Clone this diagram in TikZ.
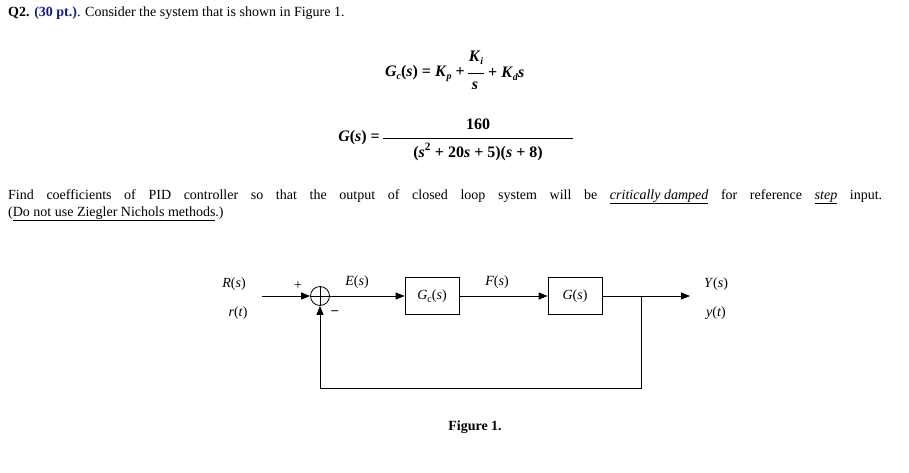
\documentclass[tikz,border=0pt]{standalone}
\usepackage{fontspec}
\setmainfont{Liberation Serif}
\usetikzlibrary{arrows.meta}
\newcommand{\bi}[1]{\textbf{\textit{#1}}}
\newcommand{\lowsub}[1]{\raisebox{-3pt}{\fontsize{10}{12}\selectfont #1}}
\begin{document}
\begin{tikzpicture}[x=1pt,y=-1pt,
  txt/.style={font=\fontsize{14}{17}\selectfont, inner sep=0pt},
  eq/.style={font=\fontsize{16}{19}\selectfont, inner sep=0pt},
  blk/.style={draw, line width=0.8pt, minimum width=54pt, minimum height=37pt, font=\fontsize{14}{17}\selectfont, inner sep=0pt},
  sig/.style={line width=0.9pt},
  arr/.style={sig, -{Triangle[length=9pt,width=7pt]}}]
\useasboundingbox[fill=white] (0,0) rectangle (909,472);
\node[txt, anchor=west] (q) at (8,13) {\textbf{Q2.} \textcolor[rgb]{0.1,0.1,0.55}{\textbf{(30 pt.)}}. Consider the system that is shown in Figure 1.};
\node[eq, anchor=east] (e1a) at (465,74) {\bi{G}\lowsub{\bi{c}}\textbf{(}\bi{s}\textbf{) = }\bi{K}\lowsub{\bi{p}}\textbf{ +}};
\node[eq] (e1n) at (476,58) {\bi{K}\lowsub{\bi{i}}};
\node[eq] (e1d) at (475,86) {\bi{s}};
\draw[line width=0.8pt] (468,73) -- (484,73);
\node[eq, anchor=west] (e1b) at (488,74) {\textbf{+ }\bi{K}\lowsub{\bi{d}}\bi{s}};
\node[eq, anchor=east] (e2a) at (380,138) {\bi{G}\textbf{(}\bi{s}\textbf{) =}};
\node[eq] (e2n) at (478,124) {\textbf{160}};
\node[eq] (e2d) at (478,152) {\textbf{(}\bi{s}\textsuperscript{\textbf{2}}\textbf{ + 20}\bi{s}\textbf{ + 5)(}\bi{s}\textbf{ + 8)}};
\draw[line width=0.8pt] (383,138) -- (573,138);
\node[txt, anchor=north west, text width=874pt, align=justify] (p) at (8,189) {Find coefficients of PID controller so that the output of closed loop system will be \underline{\textit{critically damped}} for reference \underline{\textit{step}} input. (\underline{Do not use Ziegler Nichols methods}.)};
\node[draw, circle, line width=0.8pt, minimum size=19pt, inner sep=0pt] (sum) at (320,296) {};
\draw[line width=0.8pt] (sum.north) -- (sum.south) (sum.west) -- (sum.east);
\node[blk] (gc) at (432,296) {\textit{G}\lowsub{c}(\textit{s})};
\node[blk] (g) at (575,296) {\textit{G}(\textit{s})};
\coordinate (in) at (262,296);
\coordinate (br) at (641,296);
\coordinate (out) at (690,296);
\coordinate (bl) at (641,388);
\coordinate (bb) at (320,388);
\draw[arr] (in) -- (sum.west);
\draw[arr] (sum.east) -- (gc.west);
\draw[arr] (gc.east) -- (g.west);
\draw[sig] (g.east) -- (br);
\draw[arr] (br) -- (out);
\draw[sig] (br) -- (bl) -- (bb);
\draw[arr] (bb) -- (sum.south);
\node[txt] (rs) at (234,284) {\textit{R}(\textit{s})};
\node[txt] (rt) at (238,313) {\textit{r}(\textit{t})};
\node[txt] (plus) at (298,286) {+};
\node[txt] (minus) at (335,313) {\textbf{--}};
\node[txt] (es) at (357,282) {\textit{E}(\textit{s})};
\node[txt] (fs) at (497,282) {\textit{F}(\textit{s})};
\node[txt] (ys) at (716,284) {\textit{Y}(\textit{s})};
\node[txt] (yt) at (716,313) {\textit{y}(\textit{t})};
\node[txt] (fig) at (475,427) {\textbf{Figure 1.}};
\end{tikzpicture}
\end{document}
